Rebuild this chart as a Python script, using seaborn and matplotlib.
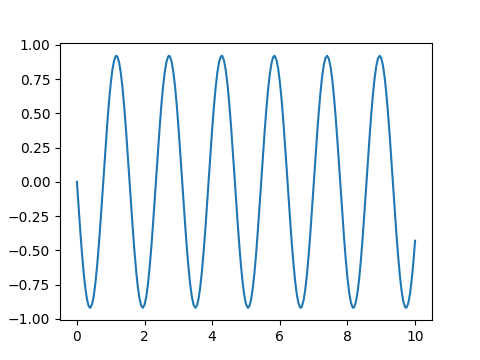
import numpy as np
import pandas as pd
import matplotlib
matplotlib.use("Agg")
import matplotlib.pyplot as plt
import seaborn as sns

# values read at x = 0.0, 0.1, ..., 10.0
x_grid = np.linspace(0, 10, 101)
y_grid = [
    0.000, -0.361, -0.665, -0.861, -0.919, -0.830, -0.607, -0.287, 0.080, 0.433,
    0.717, 0.886, 0.912, 0.792, 0.545, 0.210, -0.159, -0.502, -0.764, -0.904,
    -0.898, -0.749, -0.478, -0.132, 0.237, 0.567, 0.806, 0.915, 0.878, 0.700,
    0.409, 0.052, -0.313, -0.627, -0.841, -0.920, -0.851, -0.645, -0.336, 0.028,
    0.386, 0.683, 0.870, 0.918, 0.817, 0.586, 0.260, -0.107, -0.457, -0.734,
    -0.893, -0.908, -0.778, -0.522, -0.183, 0.186, 0.525, 0.780, 0.909, 0.892,
    0.732, 0.455, 0.104, -0.263, -0.588, -0.819, -0.918, -0.869, -0.681, -0.384,
    -0.025, 0.339, 0.647, 0.852, 0.920, 0.840, 0.625, 0.310, -0.055, -0.411,
    -0.702, -0.879, -0.915, -0.804, -0.564, -0.234, 0.135, 0.481, 0.750, 0.899,
    0.903, 0.763, 0.499, 0.156, -0.213, -0.547, -0.794, -0.913, -0.885, -0.715,
    -0.430,
]

# values read at x = 0.05, 0.15, ..., 9.95
x_mid = np.linspace(0.05, 9.95, 100)
y_mid = [
    -0.184, -0.523, -0.779, -0.909, -0.892, -0.733, -0.456, -0.106, 0.262, 0.587,
    0.818, 0.918, 0.870, 0.682, 0.385, 0.026, -0.337, -0.646, -0.851, -0.920,
    -0.841, -0.626, -0.311, 0.054, 0.410, 0.701, 0.878, 0.915, 0.805, 0.566,
    0.235, -0.133, -0.480, -0.749, -0.899, -0.904, -0.763, -0.500, -0.157, 0.211,
    0.546, 0.793, 0.912, 0.885, 0.716, 0.432, 0.078, -0.288, -0.608, -0.830,
    -0.919, -0.860, -0.664, -0.360, 0.001, 0.363, 0.666, 0.861, 0.919, 0.829,
    0.606, 0.285, -0.081, -0.435, -0.718, -0.886, -0.912, -0.791, -0.544, -0.208,
    0.160, 0.503, 0.765, 0.904, 0.898, 0.748, 0.477, 0.130, -0.238, -0.568,
    -0.806, -0.916, -0.877, -0.699, -0.407, -0.051, 0.314, 0.628, 0.842, 0.920,
    0.850, 0.644, 0.334, -0.029, -0.388, -0.685, -0.871, -0.917, -0.817, -0.585,
]

# extrema
peak_x = [1.168, 2.725, 4.282, 5.839, 7.396, 8.953]
peak_y = [0.920, 0.920, 0.920, 0.920, 0.920, 0.920]
trough_x = [0.389, 1.946, 3.503, 5.060, 6.617, 8.174, 9.731]
trough_y = [-0.920, -0.920, -0.920, -0.920, -0.920, -0.920, -0.920]

df = pd.DataFrame({
    "x": np.concatenate([x_grid, x_mid, peak_x, trough_x]),
    "y": np.concatenate([y_grid, y_mid, peak_y, trough_y]),
}).sort_values("x")

fig, ax = plt.subplots(figsize=(4.8, 3.6), dpi=100)
sns.lineplot(data=df, x="x", y="y", ax=ax, color="C0", estimator=None)
ax.set_xlabel("")
ax.set_ylabel("")
fig.savefig("out.png", dpi=100)
